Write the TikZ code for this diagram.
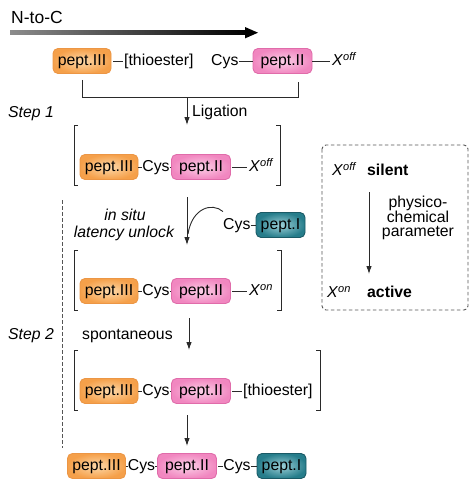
\documentclass[tikz,border=0pt]{standalone}
\usepackage{fontspec}
\setmainfont{Liberation Sans}
\usetikzlibrary{arrows.meta,calc}
\definecolor{oin}{HTML}{FDD9AA}
\definecolor{oout}{HTML}{F5A04A}
\definecolor{oedge}{HTML}{EC9645}
\definecolor{pin}{HTML}{FBD0E7}
\definecolor{pout}{HTML}{F187C0}
\definecolor{pedge}{HTML}{E06CAA}
\definecolor{tin}{HTML}{9CCFD7}
\definecolor{tout}{HTML}{267D8B}
\definecolor{tedge}{HTML}{1A5A66}
\definecolor{lncol}{HTML}{2A2A2A}
\newcommand\myfs{\fontsize{15.8}{17.5}\selectfont}
\newcommand\Xoff{\textit{X}\textsuperscript{\textit{off}}}
\newcommand\Xon{\textit{X}\textsuperscript{\textit{on}}}
\tikzset{
  txt/.style={inner sep=0pt, text height=11.5pt, text depth=3pt, font=\myfs},
  boxbase/.style={rounded corners=5pt, line width=0.9pt, minimum height=25pt, inner sep=0pt, text height=11.5pt, text depth=3pt, font=\myfs},
  obox/.style={boxbase, draw=oedge, inner color=oin, outer color=oout, minimum width=58pt},
  pbox/.style={boxbase, draw=pedge, inner color=pin, outer color=pout, minimum width=59pt},
  tbox/.style={boxbase, draw=tedge, inner color=tin, outer color=tout, minimum width=49pt},
  ln/.style={draw=lncol, line width=0.9pt},
  arr/.style={ln, -{Latex[length=8pt,width=5.5pt]}},
  brk/.style={draw=lncol, line width=0.9pt},
  dashln/.style={draw=lncol!80, line width=0.9pt, dash pattern=on 3.5pt off 2.5pt},
}
\begin{document}
\begin{tikzpicture}[x=1pt,y=-1pt]
\useasboundingbox (0,0) rectangle (474,483);

% header
\node[txt, anchor=west, font=\fontsize{17.5}{19}\selectfont] (nc) at (11,19) {N-to-C};
\shade[left color=black!45, right color=black] (10,30.6) rectangle (247,34.8);
\fill[black] (245,27) -- (258,32.7) -- (245,38.4) -- cycle;

% row 1
\node[obox] (a3) at (82,61) {pept.III};
\node[txt, anchor=west] (ath) at (124,61) {[thioester]};
\draw[ln] ([xshift=2pt]a3.east) -- ([xshift=-1.5pt]ath.west);
\node[txt, anchor=west] (acys) at (211,61) {Cys};
\node[pbox] (a2) at (282.5,61) {pept.II};
\draw[ln] ([xshift=0.5pt]acys.east) -- (a2.west);
\node[txt, anchor=west] (ax) at (332,61) {\Xoff};
\draw[ln] (a2.east) -- ([xshift=-2pt]ax.west);

\coordinate (lig) at (187,97);
\coordinate (ligend) at (187,125);
\draw[ln, shorten <=6pt] (a3.south) |- (lig);
\draw[ln, shorten >=8pt] (lig) -| ($(a2.south)+(15.5,0)$);
\draw[arr] (lig) -- (ligend);
\node[txt, anchor=west] (ligt) at (192,112) {Ligation};
\node[txt, anchor=west, font=\myfs\itshape] (s1) at (8,113) {Step 1};

% row 2
\draw[brk] (78,125) -- (74,125) -- (74,185) -- (78,185);
\draw[brk] (276,125) -- (280,125) -- (280,185) -- (276,185);
\node[obox] (b3) at (109,167) {pept.III};
\node[txt] (bcys) at (156,167) {Cys};
\node[pbox] (b2) at (201,167) {pept.II};
\draw[ln] (b3.east) -- (bcys.west);
\draw[ln] (bcys.east) -- (b2.west);
\node[txt, anchor=west] (bx) at (249,167) {\Xoff};
\draw[ln] ([xshift=1pt]b2.east) -- ([xshift=-2pt]bx.west);

% unlock step
\coordinate (u1) at (187,197);
\coordinate (u2) at (187,245);
\draw[arr] (u1) -- (u2);
\node[txt, anchor=west] (ccys) at (223,225) {Cys};
\node[tbox] (c1) at (280.5,225) {pept.I};
\draw[ln] (ccys.east) -- (c1.west);
\coordinate (cj) at (188,234);
\draw[ln] ($(ccys.north west)+(0,-6)$) .. controls (212,202) and (192,208) .. (cj);
\node[txt, font=\myfs\itshape] (ins) at (125,216) {in situ};
\node[txt, font=\myfs\itshape] (lat) at (124,233) {latency unlock};

% row 3
\draw[brk] (78,250) -- (74,250) -- (74,310) -- (78,310);
\draw[brk] (277,250) -- (281,250) -- (281,310) -- (277,310);
\node[obox] (d3) at (109,291) {pept.III};
\node[txt] (dcys) at (156,291) {Cys};
\node[pbox] (d2) at (201,291) {pept.II};
\draw[ln] (d3.east) -- (dcys.west);
\draw[ln] (dcys.east) -- (d2.west);
\node[txt, anchor=west] (dx) at (249,291) {\Xon};
\draw[ln] ([xshift=1pt]d2.east) -- ([xshift=-2pt]dx.west);

% step 2 side
\coordinate (dl1) at (62,200);
\coordinate (dl2) at (62,448);
\draw[dashln] (dl1) -- (dl2);
\node[txt, anchor=west, font=\myfs\itshape] (s2) at (8,335) {Step 2};
\node[txt, anchor=west] (spo) at (82,335) {spontaneous};
\coordinate (sp1) at (189,318);
\coordinate (sp2) at (189,350);
\draw[arr] (sp1) -- (sp2);

% row 4
\draw[brk] (78,350) -- (74,350) -- (74,410) -- (78,410);
\draw[brk] (316,350) -- (320,350) -- (320,410) -- (316,410);
\node[obox] (f3) at (109,391) {pept.III};
\node[txt] (fcys) at (156,391) {Cys};
\node[pbox] (f2) at (201,391) {pept.II};
\draw[ln] (f3.east) -- (fcys.west);
\draw[ln] (fcys.east) -- (f2.west);
\node[txt, anchor=west] (fth) at (243,391) {[thioester]};
\draw[ln] ([xshift=1pt]f2.east) -- ([xshift=-1.5pt]fth.west);

\coordinate (p1) at (187,415);
\coordinate (p2) at (187,446);
\draw[arr] (p1) -- (p2);

% row 5
\node[obox] (g3) at (96.5,466) {pept.III};
\node[txt] (gcys1) at (141.5,466) {Cys};
\node[pbox] (g2) at (187,466) {pept.II};
\node[txt] (gcys2) at (237,466) {Cys};
\node[tbox] (g1) at (281.5,466) {pept.I};
\draw[ln] (g3.east) -- (gcys1.west);
\draw[ln] (gcys1.east) -- (g2.west);
\draw[ln] ([xshift=1.5pt]g2.east) -- (gcys2.west);
\draw[ln] (gcys2.east) -- (g1.west);

% legend box
\draw[dashln, rounded corners=4pt] (322,145) rectangle (468,310);
\node[txt, anchor=west] (lxoff) at (332,171) {\Xoff};
\node[txt, anchor=west, font=\myfs\bfseries] (lsil) at (367,171) {silent};
\coordinate (la1) at (369,192);
\coordinate (la2) at (369,274);
\draw[arr] (la1) -- (la2);
\node[align=center, inner sep=0pt, font=\fontsize{15.8}{14.8}\selectfont] (phys) at (418,218) {physico-\\chemical\\parameter};
\node[txt, anchor=west] (lxon) at (327,293) {\Xon};
\node[txt, anchor=west, font=\myfs\bfseries] (lact) at (367,293) {active};
\end{tikzpicture}
\end{document}
